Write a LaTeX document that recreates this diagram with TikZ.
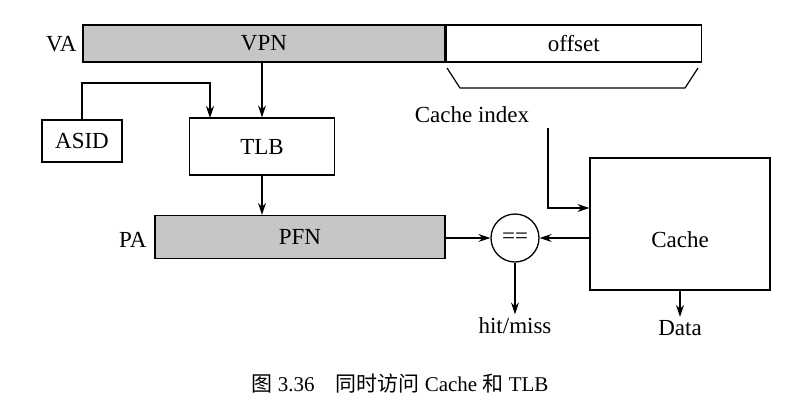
\documentclass[tikz,border=0pt]{standalone}
\usepackage{fontspec}
\setmainfont{Liberation Serif}
\newfontfamily\cjk{Noto Sans CJK SC}
\usetikzlibrary{arrows.meta}
\begin{document}
\begin{tikzpicture}[x=1pt,y=-1pt,
  every node/.style={font=\fontsize{23}{27}\selectfont},
  bx/.style={draw,line width=1.3pt,minimum height=0pt,inner sep=0pt},
  gr/.style={bx,fill=gray!45},
  ar/.style={-{Stealth[length=12pt,width=8pt]},line width=1.2pt},
  ln/.style={line width=1.2pt}]
\useasboundingbox (0,0) rectangle (805,416);
\node[gr,minimum width=362,minimum height=37] (vpn) at (264,43.5) {VPN};
\node[bx,minimum width=255,minimum height=37,anchor=west] (off) at (vpn.east) {offset};
\node[anchor=east] (va) at (80,44) {VA};
\draw[ln] (447,68) -- (460,88) -- (685,88) -- (698,68);
\node (ci) at (472,115) {Cache index};
\node[bx,minimum width=80,minimum height=42] (asid) at (82,141) {ASID};
\node[bx,minimum width=145,minimum height=57] (tlb) at (262,146.5) {TLB};
\node[gr,minimum width=290,minimum height=43] (pfn) at (300,237) {PFN};
\node[anchor=east] (pa) at (150,240) {PA};
\node[draw,circle,line width=1.3pt,minimum size=48,inner sep=0pt] (eq) at (515,238) {==};
\node[bx,minimum width=180,minimum height=132] (cache) at (680,224) {};
\node at (680,240) {Cache};
\node (hm) at (515,326) {hit/miss};
\node (data) at (680,328) {Data};
\coordinate (ciB) at (548,128);
\draw[ar] (vpn.south -| tlb) -- (tlb.north);
\draw[ar] (asid.north) |- (210,83) -- (210,118);
\draw[ar] (tlb.south) -- (tlb.south |- pfn.north);
\draw[ar] (ciB) |- (cache.west |- 0,208);
\draw[ar] (pfn.east |- eq) -- (eq.west);
\draw[ar] (cache.west |- eq) -- (eq.east);
\draw[ar] (eq.south) -- (hm.north);
\draw[ar] (680,290) -- (data.north);
\node at (400,384) {\fontsize{21}{25}\selectfont{\cjk 图} 3.36\quad{\cjk 同时访问} Cache {\cjk 和} TLB};
\end{tikzpicture}
\end{document}
